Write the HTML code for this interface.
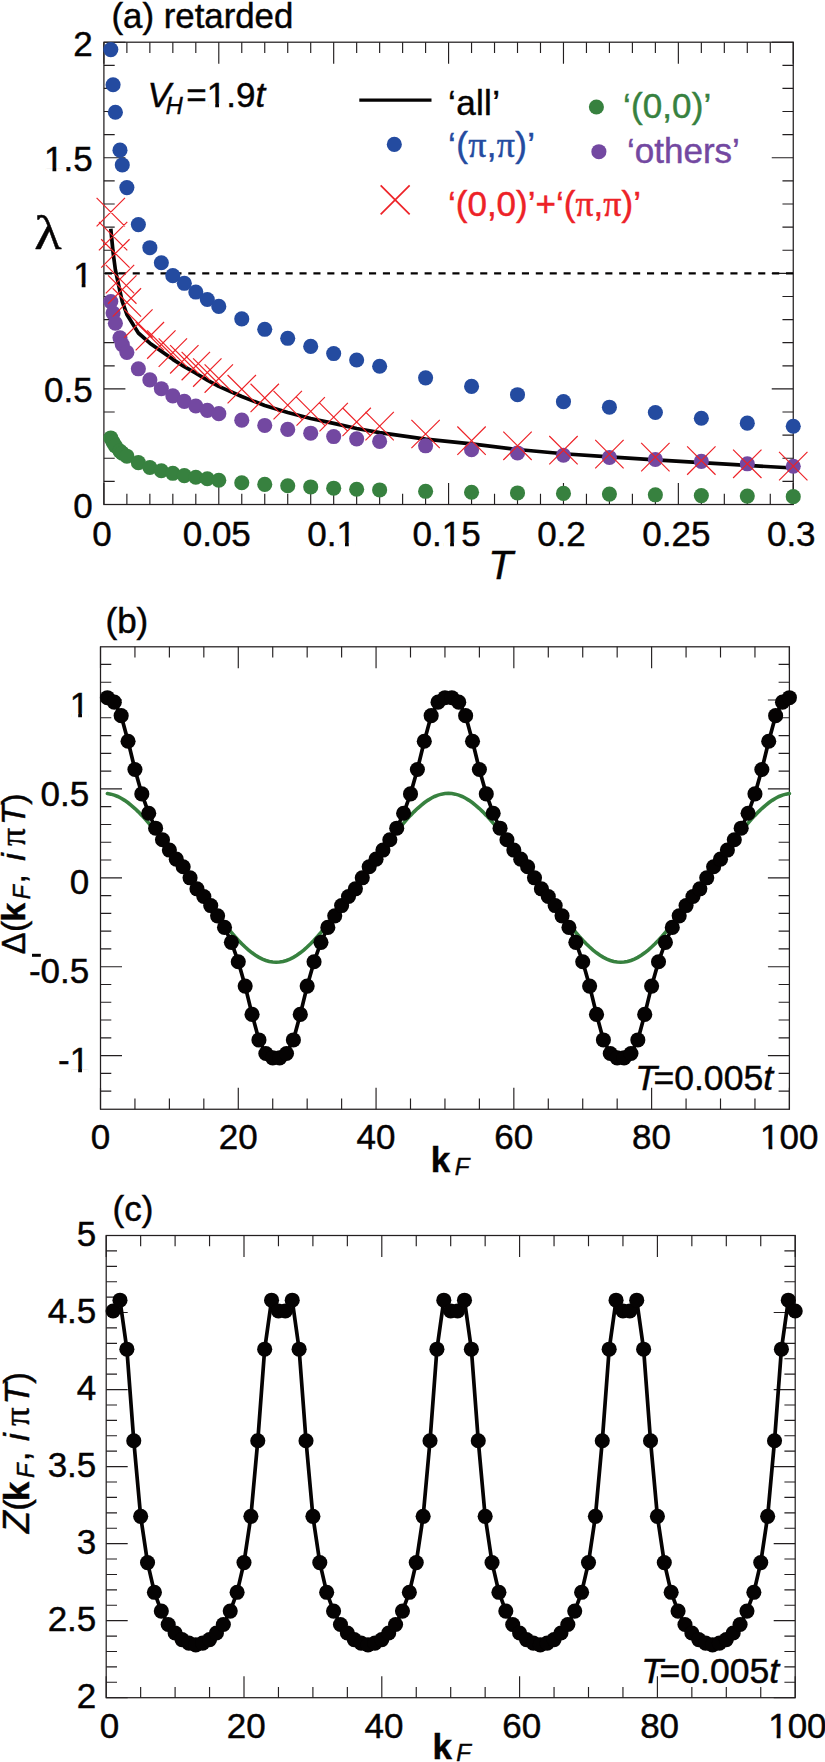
<!DOCTYPE html>
<html lang="en"><head><meta charset="utf-8"><title>Figure</title>
<style>html,body{margin:0;padding:0;background:#fff}svg{display:block}text{fill:currentColor;stroke:currentColor;stroke-width:.45px}</style>
</head><body>
<svg width="825" height="1762" viewBox="0 0 825 1762">
<rect width="825" height="1762" fill="#fff"/>
<g id="panelA">
<path d="M126.88 504.5v-10.8M126.88 42.2v10.8M149.86 504.5v-10.8M149.86 42.2v10.8M172.84 504.5v-10.8M172.84 42.2v10.8M195.81 504.5v-10.8M195.81 42.2v10.8M241.77 504.5v-10.8M241.77 42.2v10.8M264.75 504.5v-10.8M264.75 42.2v10.8M287.73 504.5v-10.8M287.73 42.2v10.8M310.71 504.5v-10.8M310.71 42.2v10.8M356.66 504.5v-10.8M356.66 42.2v10.8M379.64 504.5v-10.8M379.64 42.2v10.8M402.62 504.5v-10.8M402.62 42.2v10.8M425.6 504.5v-10.8M425.6 42.2v10.8M471.55 504.5v-10.8M471.55 42.2v10.8M494.53 504.5v-10.8M494.53 42.2v10.8M517.51 504.5v-10.8M517.51 42.2v10.8M540.49 504.5v-10.8M540.49 42.2v10.8M586.45 504.5v-10.8M586.45 42.2v10.8M609.42 504.5v-10.8M609.42 42.2v10.8M632.4 504.5v-10.8M632.4 42.2v10.8M655.38 504.5v-10.8M655.38 42.2v10.8M701.34 504.5v-10.8M701.34 42.2v10.8M724.32 504.5v-10.8M724.32 42.2v10.8M747.29 504.5v-10.8M747.29 42.2v10.8M770.27 504.5v-10.8M770.27 42.2v10.8M103.9 504.5v-21.5M103.9 42.2v21.5M218.79 504.5v-21.5M218.79 42.2v21.5M333.68 504.5v-21.5M333.68 42.2v21.5M448.58 504.5v-21.5M448.58 42.2v21.5M563.47 504.5v-21.5M563.47 42.2v21.5M678.36 504.5v-21.5M678.36 42.2v21.5M793.25 504.5v-21.5M793.25 42.2v21.5M103.9 481.38h10.8M793.25 481.38h-10.8M103.9 458.27h10.8M793.25 458.27h-10.8M103.9 435.15h10.8M793.25 435.15h-10.8M103.9 412.04h10.8M793.25 412.04h-10.8M103.9 365.81h10.8M793.25 365.81h-10.8M103.9 342.69h10.8M793.25 342.69h-10.8M103.9 319.58h10.8M793.25 319.58h-10.8M103.9 296.47h10.8M793.25 296.47h-10.8M103.9 250.23h10.8M793.25 250.23h-10.8M103.9 227.12h10.8M793.25 227.12h-10.8M103.9 204h10.8M793.25 204h-10.8M103.9 180.89h10.8M793.25 180.89h-10.8M103.9 134.66h10.8M793.25 134.66h-10.8M103.9 111.54h10.8M793.25 111.54h-10.8M103.9 88.43h10.8M793.25 88.43h-10.8M103.9 65.31h10.8M793.25 65.31h-10.8M103.9 504.5h21.5M793.25 504.5h-21.5M103.9 388.93h21.5M793.25 388.93h-21.5M103.9 273.35h21.5M793.25 273.35h-21.5M103.9 157.77h21.5M793.25 157.77h-21.5M103.9 42.2h21.5M793.25 42.2h-21.5" stroke="#231f20" stroke-width="1.15" fill="none"/>
<rect x="103.9" y="42.2" width="689.35" height="462.3" fill="none" stroke="#231f20" stroke-width="1.25"/>
<line x1="103.9" y1="273.35" x2="793.25" y2="273.35" stroke="#050303" stroke-width="2.1" stroke-dasharray="7.1 6.8" stroke-dashoffset="-1"/>
<polyline points="110.79,228.74 113.09,252.55 115.39,269.88 119.98,291.38 122.28,301.55 126.88,314.49 138.37,332.99 149.86,343.16 161.35,351.25 172.84,359.34 184.32,366.73 195.81,373.21 207.3,380.14 218.79,386.38 241.77,396.55 264.75,405.57 287.73,412.5 310.71,418.51 333.68,423.37 356.66,428.45 379.64,432.61 425.6,439.08 471.55,443.94 517.51,449.49 563.47,453.76 609.42,456.88 655.38,459.89 701.34,462.66 747.29,465.44 793.25,467.98" fill="none" stroke="#050303" stroke-width="3.7" stroke-linejoin="round"/>
<g fill="#244ba0"><circle cx="110.79" cy="49.6" r="7.55"/><circle cx="113.09" cy="84.73" r="7.55"/><circle cx="115.39" cy="112.24" r="7.55"/><circle cx="119.98" cy="150.15" r="7.55"/><circle cx="122.28" cy="164.94" r="7.55"/><circle cx="126.88" cy="187.59" r="7.55"/><circle cx="138.37" cy="224.58" r="7.55"/><circle cx="149.86" cy="247.69" r="7.55"/><circle cx="161.35" cy="262.72" r="7.55"/><circle cx="172.84" cy="275.66" r="7.55"/><circle cx="184.32" cy="283.29" r="7.55"/><circle cx="195.81" cy="292.07" r="7.55"/><circle cx="207.3" cy="299.47" r="7.55"/><circle cx="218.79" cy="306.4" r="7.55"/><circle cx="241.77" cy="318.89" r="7.55"/><circle cx="264.75" cy="329.29" r="7.55"/><circle cx="287.73" cy="338.3" r="7.55"/><circle cx="310.71" cy="346.39" r="7.55"/><circle cx="333.68" cy="353.56" r="7.55"/><circle cx="356.66" cy="360.03" r="7.55"/><circle cx="379.64" cy="366.27" r="7.55"/><circle cx="425.6" cy="377.83" r="7.55"/><circle cx="471.55" cy="386.38" r="7.55"/><circle cx="517.51" cy="394.7" r="7.55"/><circle cx="563.47" cy="401.64" r="7.55"/><circle cx="609.42" cy="407.19" r="7.55"/><circle cx="655.38" cy="412.5" r="7.55"/><circle cx="701.34" cy="418.28" r="7.55"/><circle cx="747.29" cy="423.14" r="7.55"/><circle cx="793.25" cy="426.26" r="7.55"/></g>
<g fill="#37813f"><circle cx="110.79" cy="437.93" r="7.55"/><circle cx="113.09" cy="442.32" r="7.55"/><circle cx="115.39" cy="446.02" r="7.55"/><circle cx="119.98" cy="451.1" r="7.55"/><circle cx="122.28" cy="453.18" r="7.55"/><circle cx="126.88" cy="456.19" r="7.55"/><circle cx="138.37" cy="462.66" r="7.55"/><circle cx="149.86" cy="467.52" r="7.55"/><circle cx="161.35" cy="470.75" r="7.55"/><circle cx="172.84" cy="473.29" r="7.55"/><circle cx="184.32" cy="475.61" r="7.55"/><circle cx="195.81" cy="477.22" r="7.55"/><circle cx="207.3" cy="478.73" r="7.55"/><circle cx="218.79" cy="480.23" r="7.55"/><circle cx="241.77" cy="482.77" r="7.55"/><circle cx="264.75" cy="484.39" r="7.55"/><circle cx="287.73" cy="485.78" r="7.55"/><circle cx="310.71" cy="486.93" r="7.55"/><circle cx="333.68" cy="488.18" r="7.55"/><circle cx="356.66" cy="489.24" r="7.55"/><circle cx="379.64" cy="489.94" r="7.55"/><circle cx="425.6" cy="491.32" r="7.55"/><circle cx="471.55" cy="492.25" r="7.55"/><circle cx="517.51" cy="492.94" r="7.55"/><circle cx="563.47" cy="493.4" r="7.55"/><circle cx="609.42" cy="494.1" r="7.55"/><circle cx="655.38" cy="494.79" r="7.55"/><circle cx="701.34" cy="495.6" r="7.55"/><circle cx="747.29" cy="496.09" r="7.55"/><circle cx="793.25" cy="496.64" r="7.55"/></g>
<g fill="#7348a1"><circle cx="110.79" cy="301.55" r="7.55"/><circle cx="113.09" cy="313.11" r="7.55"/><circle cx="115.39" cy="323.28" r="7.55"/><circle cx="119.98" cy="337.84" r="7.55"/><circle cx="122.28" cy="344.54" r="7.55"/><circle cx="126.88" cy="352.4" r="7.55"/><circle cx="138.37" cy="368.81" r="7.55"/><circle cx="149.86" cy="379.91" r="7.55"/><circle cx="161.35" cy="388.69" r="7.55"/><circle cx="172.84" cy="395.86" r="7.55"/><circle cx="184.32" cy="401.41" r="7.55"/><circle cx="195.81" cy="406.03" r="7.55"/><circle cx="207.3" cy="410.42" r="7.55"/><circle cx="218.79" cy="413.66" r="7.55"/><circle cx="241.77" cy="420.13" r="7.55"/><circle cx="264.75" cy="425.45" r="7.55"/><circle cx="287.73" cy="429.38" r="7.55"/><circle cx="310.71" cy="433.19" r="7.55"/><circle cx="333.68" cy="436.54" r="7.55"/><circle cx="356.66" cy="438.85" r="7.55"/><circle cx="379.64" cy="441.4" r="7.55"/><circle cx="425.6" cy="445.79" r="7.55"/><circle cx="471.55" cy="449.72" r="7.55"/><circle cx="517.51" cy="452.95" r="7.55"/><circle cx="563.47" cy="455.27" r="7.55"/><circle cx="609.42" cy="457.46" r="7.55"/><circle cx="655.38" cy="459.43" r="7.55"/><circle cx="701.34" cy="461.37" r="7.55"/><circle cx="747.29" cy="463.82" r="7.55"/><circle cx="793.25" cy="466.24" r="7.55"/></g>
<path d="M96.59 197.9l28.4 28.4m0 -28.4l-28.4 28.4M98.89 221.93l28.4 28.4m0 -28.4l-28.4 28.4M101.19 239.27l28.4 28.4m0 -28.4l-28.4 28.4M105.78 264.93l28.4 28.4m0 -28.4l-28.4 28.4M108.08 275.33l28.4 28.4m0 -28.4l-28.4 28.4M112.68 288.27l28.4 28.4m0 -28.4l-28.4 28.4M124.17 309.31l28.4 28.4m0 -28.4l-28.4 28.4M135.66 322.02l28.4 28.4m0 -28.4l-28.4 28.4M147.15 330.34l28.4 28.4m0 -28.4l-28.4 28.4M158.64 338.43l28.4 28.4m0 -28.4l-28.4 28.4M170.12 345.14l28.4 28.4m0 -28.4l-28.4 28.4M181.61 351.84l28.4 28.4m0 -28.4l-28.4 28.4M193.1 358.31l28.4 28.4m0 -28.4l-28.4 28.4M204.59 364.32l28.4 28.4m0 -28.4l-28.4 28.4M227.57 374.96l28.4 28.4m0 -28.4l-28.4 28.4M250.55 383.74l28.4 28.4m0 -28.4l-28.4 28.4M273.53 390.91l28.4 28.4m0 -28.4l-28.4 28.4M296.51 397.15l28.4 28.4m0 -28.4l-28.4 28.4M319.48 402.93l28.4 28.4m0 -28.4l-28.4 28.4M342.46 407.78l28.4 28.4m0 -28.4l-28.4 28.4M365.44 411.94l28.4 28.4m0 -28.4l-28.4 28.4M411.4 419.8l28.4 28.4m0 -28.4l-28.4 28.4M457.35 426.5l28.4 28.4m0 -28.4l-28.4 28.4M503.31 431.59l28.4 28.4m0 -28.4l-28.4 28.4M549.27 435.98l28.4 28.4m0 -28.4l-28.4 28.4M595.22 439.91l28.4 28.4m0 -28.4l-28.4 28.4M641.18 442.91l28.4 28.4m0 -28.4l-28.4 28.4M687.14 446.38l28.4 28.4m0 -28.4l-28.4 28.4M733.09 449.62l28.4 28.4m0 -28.4l-28.4 28.4M779.05 451.93l28.4 28.4m0 -28.4l-28.4 28.4" stroke="#ed2227" stroke-width="1.18" fill="none"/>
<line x1="359.3" y1="100.1" x2="431.5" y2="100.1" stroke="#050303" stroke-width="3.3"/>
<circle cx="394.3" cy="144.4" r="7.55" fill="#244ba0"/>
<circle cx="596.4" cy="107" r="7.55" fill="#37813f"/>
<circle cx="598.9" cy="151.7" r="7.55" fill="#7348a1"/>
<path d="M380.65 185.3l29.0 29.0m0 -29.0l-29.0 29.0" stroke="#ed2227" stroke-width="1.7" fill="none"/>
<g font-family='"Liberation Sans", sans-serif' font-size="35">
<text x="448" y="115.2" letter-spacing="0.35" color="#050303">‘all’</text>
<text x="448" y="157.3" letter-spacing="0.35" color="#244ba0">‘(<tspan font-family='"Liberation Serif", serif' font-size="36">π</tspan>,<tspan font-family='"Liberation Serif", serif' font-size="36">π</tspan>)’</text>
<text x="448" y="215.5" color="#ed2227">‘(0,0)’+‘(<tspan font-family='"Liberation Serif", serif' font-size="36">π</tspan>,<tspan font-family='"Liberation Serif", serif' font-size="36">π</tspan>)’</text>
<text x="623" y="118" letter-spacing="0.12" color="#37813f">‘(0,0)’</text>
<text x="627" y="163.1" color="#7348a1">‘others’</text>
<text x="111.5" y="27.5" font-size="34.8" color="#050303">(a) retarded</text>
<text x="147.5" y="106.5" color="#050303"><tspan font-style="italic">V</tspan><tspan font-style="italic" font-size="23.5" dy="7.2" dx="-5">H</tspan><tspan dy="-7.2" dx="3.5">=1.9</tspan><tspan font-style="italic">t</tspan></text>
<text x="92.7" y="55.6" text-anchor="end" color="#050303">2</text>
<text x="92.7" y="171.17" text-anchor="end" color="#050303">1.5</text>
<text x="92.7" y="286.75" text-anchor="end" color="#050303">1</text>
<text x="92.7" y="402.32" text-anchor="end" color="#050303">0.5</text>
<text x="92.7" y="517.9" text-anchor="end" color="#050303">0</text>
<text x="101.9" y="545.6" text-anchor="middle" color="#050303">0</text>
<text x="216.79" y="545.6" text-anchor="middle" color="#050303">0.05</text>
<text x="331.68" y="545.6" text-anchor="middle" color="#050303">0.1</text>
<text x="446.58" y="545.6" text-anchor="middle" color="#050303">0.15</text>
<text x="561.47" y="545.6" text-anchor="middle" color="#050303">0.2</text>
<text x="676.36" y="545.6" text-anchor="middle" color="#050303">0.25</text>
<text x="791.25" y="545.6" text-anchor="middle" color="#050303">0.3</text>
<text x="488.3" y="579.2" font-size="40.5" font-style="italic" color="#050303">T</text>
<text transform="translate(34.2 248.6) scale(1.15 1)" font-size="49" font-family='"Liberation Serif", serif' color="#050303" stroke-width="0.8">λ</text>
</g>
</g>
<g id="panelB">
<path d="M134.94 1109.25v-10.8M134.94 646.8v10.8M169.39 1109.25v-10.8M169.39 646.8v10.8M203.83 1109.25v-10.8M203.83 646.8v10.8M272.73 1109.25v-10.8M272.73 646.8v10.8M307.17 1109.25v-10.8M307.17 646.8v10.8M341.62 1109.25v-10.8M341.62 646.8v10.8M410.5 1109.25v-10.8M410.5 646.8v10.8M444.95 1109.25v-10.8M444.95 646.8v10.8M479.39 1109.25v-10.8M479.39 646.8v10.8M548.29 1109.25v-10.8M548.29 646.8v10.8M582.73 1109.25v-10.8M582.73 646.8v10.8M617.17 1109.25v-10.8M617.17 646.8v10.8M686.07 1109.25v-10.8M686.07 646.8v10.8M720.51 1109.25v-10.8M720.51 646.8v10.8M754.96 1109.25v-10.8M754.96 646.8v10.8M100.5 1109.25v-21.5M100.5 646.8v21.5M238.28 1109.25v-21.5M238.28 646.8v21.5M376.06 1109.25v-21.5M376.06 646.8v21.5M513.84 1109.25v-21.5M513.84 646.8v21.5M651.62 1109.25v-21.5M651.62 646.8v21.5M789.4 1109.25v-21.5M789.4 646.8v21.5M100.5 1091.16h10.8M789.4 1091.16h-10.8M100.5 1073.38h10.8M789.4 1073.38h-10.8M100.5 1037.82h10.8M789.4 1037.82h-10.8M100.5 1020.04h10.8M789.4 1020.04h-10.8M100.5 1002.26h10.8M789.4 1002.26h-10.8M100.5 984.48h10.8M789.4 984.48h-10.8M100.5 948.92h10.8M789.4 948.92h-10.8M100.5 931.14h10.8M789.4 931.14h-10.8M100.5 913.36h10.8M789.4 913.36h-10.8M100.5 895.58h10.8M789.4 895.58h-10.8M100.5 860.02h10.8M789.4 860.02h-10.8M100.5 842.24h10.8M789.4 842.24h-10.8M100.5 824.46h10.8M789.4 824.46h-10.8M100.5 806.68h10.8M789.4 806.68h-10.8M100.5 771.12h10.8M789.4 771.12h-10.8M100.5 753.34h10.8M789.4 753.34h-10.8M100.5 735.56h10.8M789.4 735.56h-10.8M100.5 717.78h10.8M789.4 717.78h-10.8M100.5 682.22h10.8M789.4 682.22h-10.8M100.5 664.44h10.8M789.4 664.44h-10.8M100.5 1055.6h21.5M789.4 1055.6h-21.5M100.5 966.7h21.5M789.4 966.7h-21.5M100.5 877.8h21.5M789.4 877.8h-21.5M100.5 788.9h21.5M789.4 788.9h-21.5M100.5 700h21.5M789.4 700h-21.5" stroke="#231f20" stroke-width="1.15" fill="none"/>
<rect x="100.5" y="646.8" width="688.9" height="462.45" fill="none" stroke="#231f20" stroke-width="1.25"/>
<polyline points="107.39,793.55 110.83,794.14 114.28,795.14 117.72,796.51 121.17,798.25 124.61,800.35 128.06,802.78 131.5,805.53 134.94,808.56 138.39,811.86 141.83,815.4 145.28,819.15 148.72,823.09 152.17,827.2 155.61,831.44 159.06,835.81 162.5,840.27 165.95,844.82 169.39,849.43 172.83,854.09 176.28,858.79 179.72,863.52 183.17,868.27 186.61,873.03 190.06,877.8 193.5,882.57 196.95,887.33 200.39,892.08 203.83,896.81 207.28,901.51 210.72,906.17 214.17,910.78 217.61,915.33 221.06,919.79 224.5,924.16 227.95,928.4 231.39,932.51 234.84,936.45 238.28,940.2 241.72,943.74 245.17,947.04 248.61,950.07 252.06,952.82 255.5,955.25 258.95,957.35 262.39,959.09 265.84,960.46 269.28,961.46 272.73,962.05 276.17,962.25 279.61,962.05 283.06,961.46 286.5,960.46 289.95,959.09 293.39,957.35 296.84,955.25 300.28,952.82 303.73,950.07 307.17,947.04 310.61,943.74 314.06,940.2 317.5,936.45 320.95,932.51 324.39,928.4 327.84,924.16 331.28,919.79 334.73,915.33 338.17,910.78 341.62,906.17 345.06,901.51 348.5,896.81 351.95,892.08 355.39,887.33 358.84,882.57 362.28,877.8 365.73,873.03 369.17,868.27 372.62,863.52 376.06,858.79 379.5,854.09 382.95,849.43 386.39,844.82 389.84,840.27 393.28,835.81 396.73,831.44 400.17,827.2 403.62,823.09 407.06,819.15 410.5,815.4 413.95,811.86 417.39,808.56 420.84,805.53 424.28,802.78 427.73,800.35 431.17,798.25 434.62,796.51 438.06,795.14 441.51,794.14 444.95,793.55 448.39,793.34 451.84,793.55 455.28,794.14 458.73,795.14 462.17,796.51 465.62,798.25 469.06,800.35 472.51,802.78 475.95,805.53 479.39,808.56 482.84,811.86 486.28,815.4 489.73,819.15 493.17,823.09 496.62,827.2 500.06,831.44 503.51,835.81 506.95,840.27 510.4,844.82 513.84,849.43 517.28,854.09 520.73,858.79 524.17,863.52 527.62,868.27 531.06,873.03 534.51,877.8 537.95,882.57 541.4,887.33 544.84,892.08 548.29,896.81 551.73,901.51 555.17,906.17 558.62,910.78 562.06,915.33 565.51,919.79 568.95,924.16 572.4,928.4 575.84,932.51 579.29,936.45 582.73,940.2 586.17,943.74 589.62,947.04 593.06,950.07 596.51,952.82 599.95,955.25 603.4,957.35 606.84,959.09 610.29,960.46 613.73,961.46 617.17,962.05 620.62,962.25 624.06,962.05 627.51,961.46 630.95,960.46 634.4,959.09 637.84,957.35 641.29,955.25 644.73,952.82 648.18,950.07 651.62,947.04 655.06,943.74 658.51,940.2 661.95,936.45 665.4,932.51 668.84,928.4 672.29,924.16 675.73,919.79 679.18,915.33 682.62,910.78 686.07,906.17 689.51,901.51 692.95,896.81 696.4,892.08 699.84,887.33 703.29,882.57 706.73,877.8 710.18,873.03 713.62,868.27 717.07,863.52 720.51,858.79 723.95,854.09 727.4,849.43 730.84,844.82 734.29,840.27 737.73,835.81 741.18,831.44 744.62,827.2 748.07,823.09 751.51,819.15 754.96,815.4 758.4,811.86 761.84,808.56 765.29,805.53 768.73,802.78 772.18,800.35 775.62,798.25 779.07,796.51 782.51,795.14 785.96,794.14 789.4,793.55" fill="none" stroke="#37813f" stroke-width="3.6" stroke-linecap="round"/>
<polyline points="107.39,697.69 114.28,702.13 121.17,715.65 128.06,741.25 134.94,769.52 141.83,793.88 148.72,813.26 155.61,828.19 162.5,839.75 169.39,850.06 176.28,859.13 183.17,866.78 190.06,877.8 196.95,888.82 203.83,896.47 210.72,905.54 217.61,915.85 224.5,927.41 231.39,942.34 238.28,961.72 245.17,986.08 252.06,1014.35 258.95,1039.95 265.84,1053.47 272.73,1057.91 279.61,1057.91 286.5,1053.47 293.39,1039.95 300.28,1014.35 307.17,986.08 314.06,961.72 320.95,942.34 327.84,927.41 334.73,915.85 341.62,905.54 348.5,896.47 355.39,888.82 362.28,877.8 369.17,866.78 376.06,859.13 382.95,850.06 389.84,839.75 396.73,828.19 403.62,813.26 410.5,793.88 417.39,769.52 424.28,741.25 431.17,715.65 438.06,702.13 444.95,697.69 451.84,697.69 458.73,702.13 465.62,715.65 472.51,741.25 479.39,769.52 486.28,793.88 493.17,813.26 500.06,828.19 506.95,839.75 513.84,850.06 520.73,859.13 527.62,866.78 534.51,877.8 541.4,888.82 548.29,896.47 555.17,905.54 562.06,915.85 568.95,927.41 575.84,942.34 582.73,961.72 589.62,986.08 596.51,1014.35 603.4,1039.95 610.29,1053.47 617.17,1057.91 624.06,1057.91 630.95,1053.47 637.84,1039.95 644.73,1014.35 651.62,986.08 658.51,961.72 665.4,942.34 672.29,927.41 679.18,915.85 686.07,905.54 692.95,896.47 699.84,888.82 706.73,877.8 713.62,866.78 720.51,859.13 727.4,850.06 734.29,839.75 741.18,828.19 748.07,813.26 754.96,793.88 761.84,769.52 768.73,741.25 775.62,715.65 782.51,702.13 789.4,697.69" fill="none" stroke="#050303" stroke-width="3.7" stroke-linejoin="round"/>
<g fill="#050303"><circle cx="107.39" cy="697.69" r="7.55"/><circle cx="114.28" cy="702.13" r="7.55"/><circle cx="121.17" cy="715.65" r="7.55"/><circle cx="128.06" cy="741.25" r="7.55"/><circle cx="134.94" cy="769.52" r="7.55"/><circle cx="141.83" cy="793.88" r="7.55"/><circle cx="148.72" cy="813.26" r="7.55"/><circle cx="155.61" cy="828.19" r="7.55"/><circle cx="162.5" cy="839.75" r="7.55"/><circle cx="169.39" cy="850.06" r="7.55"/><circle cx="176.28" cy="859.13" r="7.55"/><circle cx="183.17" cy="866.78" r="7.55"/><circle cx="190.06" cy="877.8" r="7.55"/><circle cx="196.95" cy="888.82" r="7.55"/><circle cx="203.83" cy="896.47" r="7.55"/><circle cx="210.72" cy="905.54" r="7.55"/><circle cx="217.61" cy="915.85" r="7.55"/><circle cx="224.5" cy="927.41" r="7.55"/><circle cx="231.39" cy="942.34" r="7.55"/><circle cx="238.28" cy="961.72" r="7.55"/><circle cx="245.17" cy="986.08" r="7.55"/><circle cx="252.06" cy="1014.35" r="7.55"/><circle cx="258.95" cy="1039.95" r="7.55"/><circle cx="265.84" cy="1053.47" r="7.55"/><circle cx="272.73" cy="1057.91" r="7.55"/><circle cx="279.61" cy="1057.91" r="7.55"/><circle cx="286.5" cy="1053.47" r="7.55"/><circle cx="293.39" cy="1039.95" r="7.55"/><circle cx="300.28" cy="1014.35" r="7.55"/><circle cx="307.17" cy="986.08" r="7.55"/><circle cx="314.06" cy="961.72" r="7.55"/><circle cx="320.95" cy="942.34" r="7.55"/><circle cx="327.84" cy="927.41" r="7.55"/><circle cx="334.73" cy="915.85" r="7.55"/><circle cx="341.62" cy="905.54" r="7.55"/><circle cx="348.5" cy="896.47" r="7.55"/><circle cx="355.39" cy="888.82" r="7.55"/><circle cx="362.28" cy="877.8" r="7.55"/><circle cx="369.17" cy="866.78" r="7.55"/><circle cx="376.06" cy="859.13" r="7.55"/><circle cx="382.95" cy="850.06" r="7.55"/><circle cx="389.84" cy="839.75" r="7.55"/><circle cx="396.73" cy="828.19" r="7.55"/><circle cx="403.62" cy="813.26" r="7.55"/><circle cx="410.5" cy="793.88" r="7.55"/><circle cx="417.39" cy="769.52" r="7.55"/><circle cx="424.28" cy="741.25" r="7.55"/><circle cx="431.17" cy="715.65" r="7.55"/><circle cx="438.06" cy="702.13" r="7.55"/><circle cx="444.95" cy="697.69" r="7.55"/><circle cx="451.84" cy="697.69" r="7.55"/><circle cx="458.73" cy="702.13" r="7.55"/><circle cx="465.62" cy="715.65" r="7.55"/><circle cx="472.51" cy="741.25" r="7.55"/><circle cx="479.39" cy="769.52" r="7.55"/><circle cx="486.28" cy="793.88" r="7.55"/><circle cx="493.17" cy="813.26" r="7.55"/><circle cx="500.06" cy="828.19" r="7.55"/><circle cx="506.95" cy="839.75" r="7.55"/><circle cx="513.84" cy="850.06" r="7.55"/><circle cx="520.73" cy="859.13" r="7.55"/><circle cx="527.62" cy="866.78" r="7.55"/><circle cx="534.51" cy="877.8" r="7.55"/><circle cx="541.4" cy="888.82" r="7.55"/><circle cx="548.29" cy="896.47" r="7.55"/><circle cx="555.17" cy="905.54" r="7.55"/><circle cx="562.06" cy="915.85" r="7.55"/><circle cx="568.95" cy="927.41" r="7.55"/><circle cx="575.84" cy="942.34" r="7.55"/><circle cx="582.73" cy="961.72" r="7.55"/><circle cx="589.62" cy="986.08" r="7.55"/><circle cx="596.51" cy="1014.35" r="7.55"/><circle cx="603.4" cy="1039.95" r="7.55"/><circle cx="610.29" cy="1053.47" r="7.55"/><circle cx="617.17" cy="1057.91" r="7.55"/><circle cx="624.06" cy="1057.91" r="7.55"/><circle cx="630.95" cy="1053.47" r="7.55"/><circle cx="637.84" cy="1039.95" r="7.55"/><circle cx="644.73" cy="1014.35" r="7.55"/><circle cx="651.62" cy="986.08" r="7.55"/><circle cx="658.51" cy="961.72" r="7.55"/><circle cx="665.4" cy="942.34" r="7.55"/><circle cx="672.29" cy="927.41" r="7.55"/><circle cx="679.18" cy="915.85" r="7.55"/><circle cx="686.07" cy="905.54" r="7.55"/><circle cx="692.95" cy="896.47" r="7.55"/><circle cx="699.84" cy="888.82" r="7.55"/><circle cx="706.73" cy="877.8" r="7.55"/><circle cx="713.62" cy="866.78" r="7.55"/><circle cx="720.51" cy="859.13" r="7.55"/><circle cx="727.4" cy="850.06" r="7.55"/><circle cx="734.29" cy="839.75" r="7.55"/><circle cx="741.18" cy="828.19" r="7.55"/><circle cx="748.07" cy="813.26" r="7.55"/><circle cx="754.96" cy="793.88" r="7.55"/><circle cx="761.84" cy="769.52" r="7.55"/><circle cx="768.73" cy="741.25" r="7.55"/><circle cx="775.62" cy="715.65" r="7.55"/><circle cx="782.51" cy="702.13" r="7.55"/><circle cx="789.4" cy="697.69" r="7.55"/></g>
<g font-family='"Liberation Sans", sans-serif' font-size="35" color="#050303">
<text x="105.5" y="632.7">(b)</text>
<text x="89.2" y="716.6" text-anchor="end">1</text>
<text x="89.2" y="805.5" text-anchor="end">0.5</text>
<text x="89.2" y="894.4" text-anchor="end">0</text>
<text x="89.2" y="983.3" text-anchor="end">-0.5</text>
<text x="89.2" y="1072.2" text-anchor="end">-1</text>
<text x="100.4" y="1149.0" text-anchor="middle">0</text>
<text x="238.18" y="1149.0" text-anchor="middle">20</text>
<text x="375.96" y="1149.0" text-anchor="middle">40</text>
<text x="513.74" y="1149.0" text-anchor="middle">60</text>
<text x="651.52" y="1149.0" text-anchor="middle">80</text>
<text x="789.3" y="1149.0" text-anchor="middle">100</text>
<text x="635.2" y="1090.1" font-size="35.6"><tspan font-style="italic">T</tspan><tspan dx="-3.5">=0.005</tspan><tspan font-style="italic">t</tspan></text>
<text x="430.7" y="1171.7"><tspan font-weight="bold">k</tspan><tspan font-style="italic" font-size="24" dx="4.6" dy="3.0">F</tspan></text>
<rect x="32" y="953.8" width="8.8" height="3" fill="#050303"/>
<text transform="translate(25.3 954.2) rotate(-90)" font-size="34"><tspan font-size="32.5">Δ</tspan><tspan dx="0.5">(</tspan><tspan font-weight="bold" dx="-1.0">k</tspan><tspan font-style="italic" font-size="23.1" dy="5" dx="3.5">F</tspan><tspan dy="-5" dx="1.5">,</tspan><tspan font-style="italic" dx="13.5">i</tspan><tspan font-family='"Liberation Serif", serif' dx="7" font-size="35.7">π</tspan><tspan font-style="italic" dx="3">T</tspan><tspan dx="-0.5">)</tspan></text>
</g></g>
<g id="panelC">
<path d="M140.65 1697.7v-10.8M140.65 1235.5v10.8M175.1 1697.7v-10.8M175.1 1235.5v10.8M209.55 1697.7v-10.8M209.55 1235.5v10.8M278.45 1697.7v-10.8M278.45 1235.5v10.8M312.9 1697.7v-10.8M312.9 1235.5v10.8M347.35 1697.7v-10.8M347.35 1235.5v10.8M416.25 1697.7v-10.8M416.25 1235.5v10.8M450.7 1697.7v-10.8M450.7 1235.5v10.8M485.15 1697.7v-10.8M485.15 1235.5v10.8M554.05 1697.7v-10.8M554.05 1235.5v10.8M588.5 1697.7v-10.8M588.5 1235.5v10.8M622.95 1697.7v-10.8M622.95 1235.5v10.8M691.85 1697.7v-10.8M691.85 1235.5v10.8M726.3 1697.7v-10.8M726.3 1235.5v10.8M760.75 1697.7v-10.8M760.75 1235.5v10.8M106.2 1697.7v-21.5M106.2 1235.5v21.5M244 1697.7v-21.5M244 1235.5v21.5M381.8 1697.7v-21.5M381.8 1235.5v21.5M519.6 1697.7v-21.5M519.6 1235.5v21.5M657.4 1697.7v-21.5M657.4 1235.5v21.5M795.2 1697.7v-21.5M795.2 1235.5v21.5M106.2 1682.29h10.8M795.2 1682.29h-10.8M106.2 1666.89h10.8M795.2 1666.89h-10.8M106.2 1651.48h10.8M795.2 1651.48h-10.8M106.2 1636.07h10.8M795.2 1636.07h-10.8M106.2 1605.26h10.8M795.2 1605.26h-10.8M106.2 1589.85h10.8M795.2 1589.85h-10.8M106.2 1574.45h10.8M795.2 1574.45h-10.8M106.2 1559.04h10.8M795.2 1559.04h-10.8M106.2 1528.23h10.8M795.2 1528.23h-10.8M106.2 1512.82h10.8M795.2 1512.82h-10.8M106.2 1497.41h10.8M795.2 1497.41h-10.8M106.2 1482.01h10.8M795.2 1482.01h-10.8M106.2 1451.19h10.8M795.2 1451.19h-10.8M106.2 1435.79h10.8M795.2 1435.79h-10.8M106.2 1420.38h10.8M795.2 1420.38h-10.8M106.2 1404.97h10.8M795.2 1404.97h-10.8M106.2 1374.16h10.8M795.2 1374.16h-10.8M106.2 1358.75h10.8M795.2 1358.75h-10.8M106.2 1343.35h10.8M795.2 1343.35h-10.8M106.2 1327.94h10.8M795.2 1327.94h-10.8M106.2 1297.13h10.8M795.2 1297.13h-10.8M106.2 1281.72h10.8M795.2 1281.72h-10.8M106.2 1266.31h10.8M795.2 1266.31h-10.8M106.2 1250.91h10.8M795.2 1250.91h-10.8M106.2 1697.7h21.5M795.2 1697.7h-21.5M106.2 1620.67h21.5M795.2 1620.67h-21.5M106.2 1543.63h21.5M795.2 1543.63h-21.5M106.2 1466.6h21.5M795.2 1466.6h-21.5M106.2 1389.57h21.5M795.2 1389.57h-21.5M106.2 1312.53h21.5M795.2 1312.53h-21.5M106.2 1235.5h21.5M795.2 1235.5h-21.5" stroke="#231f20" stroke-width="1.15" fill="none"/>
<rect x="106.2" y="1235.5" width="689" height="462.2" fill="none" stroke="#231f20" stroke-width="1.25"/>
<polyline points="113.09,1310.99 119.98,1300.21 126.87,1349.2 133.76,1440.72 140.65,1516.36 147.54,1562.58 154.43,1592.32 161.32,1611.11 168.21,1624.52 175.1,1632.99 181.99,1639.62 188.88,1643.16 195.77,1644.86 202.66,1643.16 209.55,1639.62 216.44,1632.99 223.33,1624.52 230.22,1611.11 237.11,1592.32 244,1562.58 250.89,1516.36 257.78,1440.72 264.67,1349.2 271.56,1300.21 278.45,1310.99 285.34,1310.99 292.23,1300.21 299.12,1349.2 306.01,1440.72 312.9,1516.36 319.79,1562.58 326.68,1592.32 333.57,1611.11 340.46,1624.52 347.35,1632.99 354.24,1639.62 361.13,1643.16 368.02,1644.86 374.91,1643.16 381.8,1639.62 388.69,1632.99 395.58,1624.52 402.47,1611.11 409.36,1592.32 416.25,1562.58 423.14,1516.36 430.03,1440.72 436.92,1349.2 443.81,1300.21 450.7,1310.99 457.59,1310.99 464.48,1300.21 471.37,1349.2 478.26,1440.72 485.15,1516.36 492.04,1562.58 498.93,1592.32 505.82,1611.11 512.71,1624.52 519.6,1632.99 526.49,1639.62 533.38,1643.16 540.27,1644.86 547.16,1643.16 554.05,1639.62 560.94,1632.99 567.83,1624.52 574.72,1611.11 581.61,1592.32 588.5,1562.58 595.39,1516.36 602.28,1440.72 609.17,1349.2 616.06,1300.21 622.95,1310.99 629.84,1310.99 636.73,1300.21 643.62,1349.2 650.51,1440.72 657.4,1516.36 664.29,1562.58 671.18,1592.32 678.07,1611.11 684.96,1624.52 691.85,1632.99 698.74,1639.62 705.63,1643.16 712.52,1644.86 719.41,1643.16 726.3,1639.62 733.19,1632.99 740.08,1624.52 746.97,1611.11 753.86,1592.32 760.75,1562.58 767.64,1516.36 774.53,1440.72 781.42,1349.2 788.31,1300.21 795.2,1310.99" fill="none" stroke="#050303" stroke-width="3.7" stroke-linejoin="round"/>
<g fill="#050303"><circle cx="113.09" cy="1310.99" r="7.55"/><circle cx="119.98" cy="1300.21" r="7.55"/><circle cx="126.87" cy="1349.2" r="7.55"/><circle cx="133.76" cy="1440.72" r="7.55"/><circle cx="140.65" cy="1516.36" r="7.55"/><circle cx="147.54" cy="1562.58" r="7.55"/><circle cx="154.43" cy="1592.32" r="7.55"/><circle cx="161.32" cy="1611.11" r="7.55"/><circle cx="168.21" cy="1624.52" r="7.55"/><circle cx="175.1" cy="1632.99" r="7.55"/><circle cx="181.99" cy="1639.62" r="7.55"/><circle cx="188.88" cy="1643.16" r="7.55"/><circle cx="195.77" cy="1644.86" r="7.55"/><circle cx="202.66" cy="1643.16" r="7.55"/><circle cx="209.55" cy="1639.62" r="7.55"/><circle cx="216.44" cy="1632.99" r="7.55"/><circle cx="223.33" cy="1624.52" r="7.55"/><circle cx="230.22" cy="1611.11" r="7.55"/><circle cx="237.11" cy="1592.32" r="7.55"/><circle cx="244" cy="1562.58" r="7.55"/><circle cx="250.89" cy="1516.36" r="7.55"/><circle cx="257.78" cy="1440.72" r="7.55"/><circle cx="264.67" cy="1349.2" r="7.55"/><circle cx="271.56" cy="1300.21" r="7.55"/><circle cx="278.45" cy="1310.99" r="7.55"/><circle cx="285.34" cy="1310.99" r="7.55"/><circle cx="292.23" cy="1300.21" r="7.55"/><circle cx="299.12" cy="1349.2" r="7.55"/><circle cx="306.01" cy="1440.72" r="7.55"/><circle cx="312.9" cy="1516.36" r="7.55"/><circle cx="319.79" cy="1562.58" r="7.55"/><circle cx="326.68" cy="1592.32" r="7.55"/><circle cx="333.57" cy="1611.11" r="7.55"/><circle cx="340.46" cy="1624.52" r="7.55"/><circle cx="347.35" cy="1632.99" r="7.55"/><circle cx="354.24" cy="1639.62" r="7.55"/><circle cx="361.13" cy="1643.16" r="7.55"/><circle cx="368.02" cy="1644.86" r="7.55"/><circle cx="374.91" cy="1643.16" r="7.55"/><circle cx="381.8" cy="1639.62" r="7.55"/><circle cx="388.69" cy="1632.99" r="7.55"/><circle cx="395.58" cy="1624.52" r="7.55"/><circle cx="402.47" cy="1611.11" r="7.55"/><circle cx="409.36" cy="1592.32" r="7.55"/><circle cx="416.25" cy="1562.58" r="7.55"/><circle cx="423.14" cy="1516.36" r="7.55"/><circle cx="430.03" cy="1440.72" r="7.55"/><circle cx="436.92" cy="1349.2" r="7.55"/><circle cx="443.81" cy="1300.21" r="7.55"/><circle cx="450.7" cy="1310.99" r="7.55"/><circle cx="457.59" cy="1310.99" r="7.55"/><circle cx="464.48" cy="1300.21" r="7.55"/><circle cx="471.37" cy="1349.2" r="7.55"/><circle cx="478.26" cy="1440.72" r="7.55"/><circle cx="485.15" cy="1516.36" r="7.55"/><circle cx="492.04" cy="1562.58" r="7.55"/><circle cx="498.93" cy="1592.32" r="7.55"/><circle cx="505.82" cy="1611.11" r="7.55"/><circle cx="512.71" cy="1624.52" r="7.55"/><circle cx="519.6" cy="1632.99" r="7.55"/><circle cx="526.49" cy="1639.62" r="7.55"/><circle cx="533.38" cy="1643.16" r="7.55"/><circle cx="540.27" cy="1644.86" r="7.55"/><circle cx="547.16" cy="1643.16" r="7.55"/><circle cx="554.05" cy="1639.62" r="7.55"/><circle cx="560.94" cy="1632.99" r="7.55"/><circle cx="567.83" cy="1624.52" r="7.55"/><circle cx="574.72" cy="1611.11" r="7.55"/><circle cx="581.61" cy="1592.32" r="7.55"/><circle cx="588.5" cy="1562.58" r="7.55"/><circle cx="595.39" cy="1516.36" r="7.55"/><circle cx="602.28" cy="1440.72" r="7.55"/><circle cx="609.17" cy="1349.2" r="7.55"/><circle cx="616.06" cy="1300.21" r="7.55"/><circle cx="622.95" cy="1310.99" r="7.55"/><circle cx="629.84" cy="1310.99" r="7.55"/><circle cx="636.73" cy="1300.21" r="7.55"/><circle cx="643.62" cy="1349.2" r="7.55"/><circle cx="650.51" cy="1440.72" r="7.55"/><circle cx="657.4" cy="1516.36" r="7.55"/><circle cx="664.29" cy="1562.58" r="7.55"/><circle cx="671.18" cy="1592.32" r="7.55"/><circle cx="678.07" cy="1611.11" r="7.55"/><circle cx="684.96" cy="1624.52" r="7.55"/><circle cx="691.85" cy="1632.99" r="7.55"/><circle cx="698.74" cy="1639.62" r="7.55"/><circle cx="705.63" cy="1643.16" r="7.55"/><circle cx="712.52" cy="1644.86" r="7.55"/><circle cx="719.41" cy="1643.16" r="7.55"/><circle cx="726.3" cy="1639.62" r="7.55"/><circle cx="733.19" cy="1632.99" r="7.55"/><circle cx="740.08" cy="1624.52" r="7.55"/><circle cx="746.97" cy="1611.11" r="7.55"/><circle cx="753.86" cy="1592.32" r="7.55"/><circle cx="760.75" cy="1562.58" r="7.55"/><circle cx="767.64" cy="1516.36" r="7.55"/><circle cx="774.53" cy="1440.72" r="7.55"/><circle cx="781.42" cy="1349.2" r="7.55"/><circle cx="788.31" cy="1300.21" r="7.55"/><circle cx="795.2" cy="1310.99" r="7.55"/></g>
<g font-family='"Liberation Sans", sans-serif' font-size="35" color="#050303">
<text x="112.5" y="1221.3">(c)</text>
<text x="96.3" y="1246.2" text-anchor="end">5</text>
<text x="96.3" y="1323.23" text-anchor="end">4.5</text>
<text x="96.3" y="1400.27" text-anchor="end">4</text>
<text x="96.3" y="1477.3" text-anchor="end">3.5</text>
<text x="96.3" y="1554.33" text-anchor="end">3</text>
<text x="96.3" y="1631.37" text-anchor="end">2.5</text>
<text x="96.3" y="1708.4" text-anchor="end">2</text>
<text x="109.6" y="1738.0" text-anchor="middle">0</text>
<text x="246.2" y="1738.0" text-anchor="middle">20</text>
<text x="384" y="1738.0" text-anchor="middle">40</text>
<text x="521.8" y="1738.0" text-anchor="middle">60</text>
<text x="659.6" y="1738.0" text-anchor="middle">80</text>
<text x="797.4" y="1738.0" text-anchor="middle">100</text>
<text x="641.3" y="1683.4" font-size="35.6"><tspan font-style="italic">T</tspan><tspan dx="-3.5">=0.005</tspan><tspan font-style="italic">t</tspan></text>
<text x="432.6" y="1758.7"><tspan font-weight="bold">k</tspan><tspan font-style="italic" font-size="24" dx="4.1" dy="2.2">F</tspan></text>
<text transform="translate(28.9 1533.2) rotate(-90)" font-size="35"><tspan font-style="italic" font-size="36.5">Z</tspan><tspan dx="0.1">(</tspan><tspan font-weight="bold" dx="-2.0">k</tspan><tspan font-style="italic" font-size="23.8" dy="5" dx="3.7">F</tspan><tspan dy="-5" dx="2.1">,</tspan><tspan font-style="italic" dx="10.7">i</tspan><tspan font-family='"Liberation Serif", serif' dx="7" font-size="36.8">π</tspan><tspan font-style="italic" dx="3">T</tspan><tspan dx="-0.5">)</tspan></text>
</g></g>
<g fill="#fff"><rect x="208.55" y="103.39" width="6.69" height="5.11"/><rect x="219.03" y="103.39" width="6.66" height="5.11"/><rect x="45.81" y="168.06" width="6.69" height="5.11"/><rect x="56.29" y="168.06" width="6.66" height="5.11"/><rect x="75.00" y="283.64" width="6.69" height="5.11"/><rect x="85.48" y="283.64" width="6.66" height="5.11"/><rect x="338.31" y="542.49" width="6.69" height="5.11"/><rect x="348.78" y="542.49" width="6.66" height="5.11"/><rect x="443.47" y="542.49" width="6.69" height="5.11"/><rect x="453.95" y="542.49" width="6.66" height="5.11"/><rect x="71.50" y="713.49" width="6.69" height="5.11"/><rect x="81.98" y="713.49" width="6.66" height="5.11"/><rect x="71.48" y="1069.09" width="6.69" height="5.11"/><rect x="81.96" y="1069.09" width="6.66" height="5.11"/><rect x="761.86" y="1145.89" width="6.69" height="5.11"/><rect x="772.34" y="1145.89" width="6.66" height="5.11"/><rect x="769.96" y="1734.89" width="6.69" height="5.11"/><rect x="780.44" y="1734.89" width="6.66" height="5.11"/></g>
</svg>
</body></html>
